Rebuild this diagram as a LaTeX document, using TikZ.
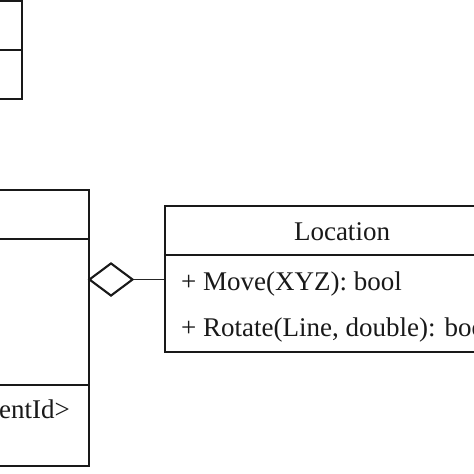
\documentclass[tikz,border=0pt]{standalone}
\usepackage{fontspec}
\setmainfont{Liberation Serif}
\usetikzlibrary{shapes.geometric}
\begin{document}
\begin{tikzpicture}[x=1pt,y=-1pt,
  boxline/.style={draw=black!90,line width=2.1pt},
  umltext/.style={inner sep=0pt,text=black!90,font=\fontsize{27}{31}\selectfont},
  agg/.style={diamond,draw=black!90,line width=2.1pt,minimum width=44pt,minimum height=33pt,inner sep=0pt,fill=white},
  link/.style={draw=black!85,line width=1.1pt}]
\useasboundingbox (0,0) rectangle (474,474);
\clip (0,0) rectangle (474,474);
\fill[white] (0,0) rectangle (474,474);
% top-left class box
\node[boxline,rectangle,minimum width=122pt,minimum height=98pt,inner sep=0pt] (topbox) at (-39,50) {};
\draw[boxline] (topbox.west |- 0,50) -- (topbox.east |- 0,50);
% large class box
\node[boxline,rectangle,minimum width=289pt,minimum height=276pt,inner sep=0pt] (big) at (-55.5,328) {};
\draw[boxline] (big.west |- 0,239) -- (big.east |- 0,239);
\draw[boxline] (big.west |- 0,385) -- (big.east |- 0,385);
\node[umltext,anchor=base east] (bigop) at (70,418) {entId>};
% Location class box
\node[boxline,rectangle,minimum width=354pt,minimum height=146pt,inner sep=0pt] (loc) at (342,279) {};
\draw[boxline] (loc.west |- 0,255) -- (loc.east |- 0,255);
\node[umltext,anchor=base] (locname) at (342,240.5) {Location};
\node[umltext,anchor=base west] (locmove) at (181,290) {+ Move(XYZ): bool};
\node[umltext,anchor=base west] (locrot) at (181,336.5) {+ Rotate(Line, double): bool};
% aggregation
\node[agg] (dia) at (111,279.5) {};
\draw[link] (dia.east) -- (loc.west |- dia.east);
\end{tikzpicture}
\end{document}
